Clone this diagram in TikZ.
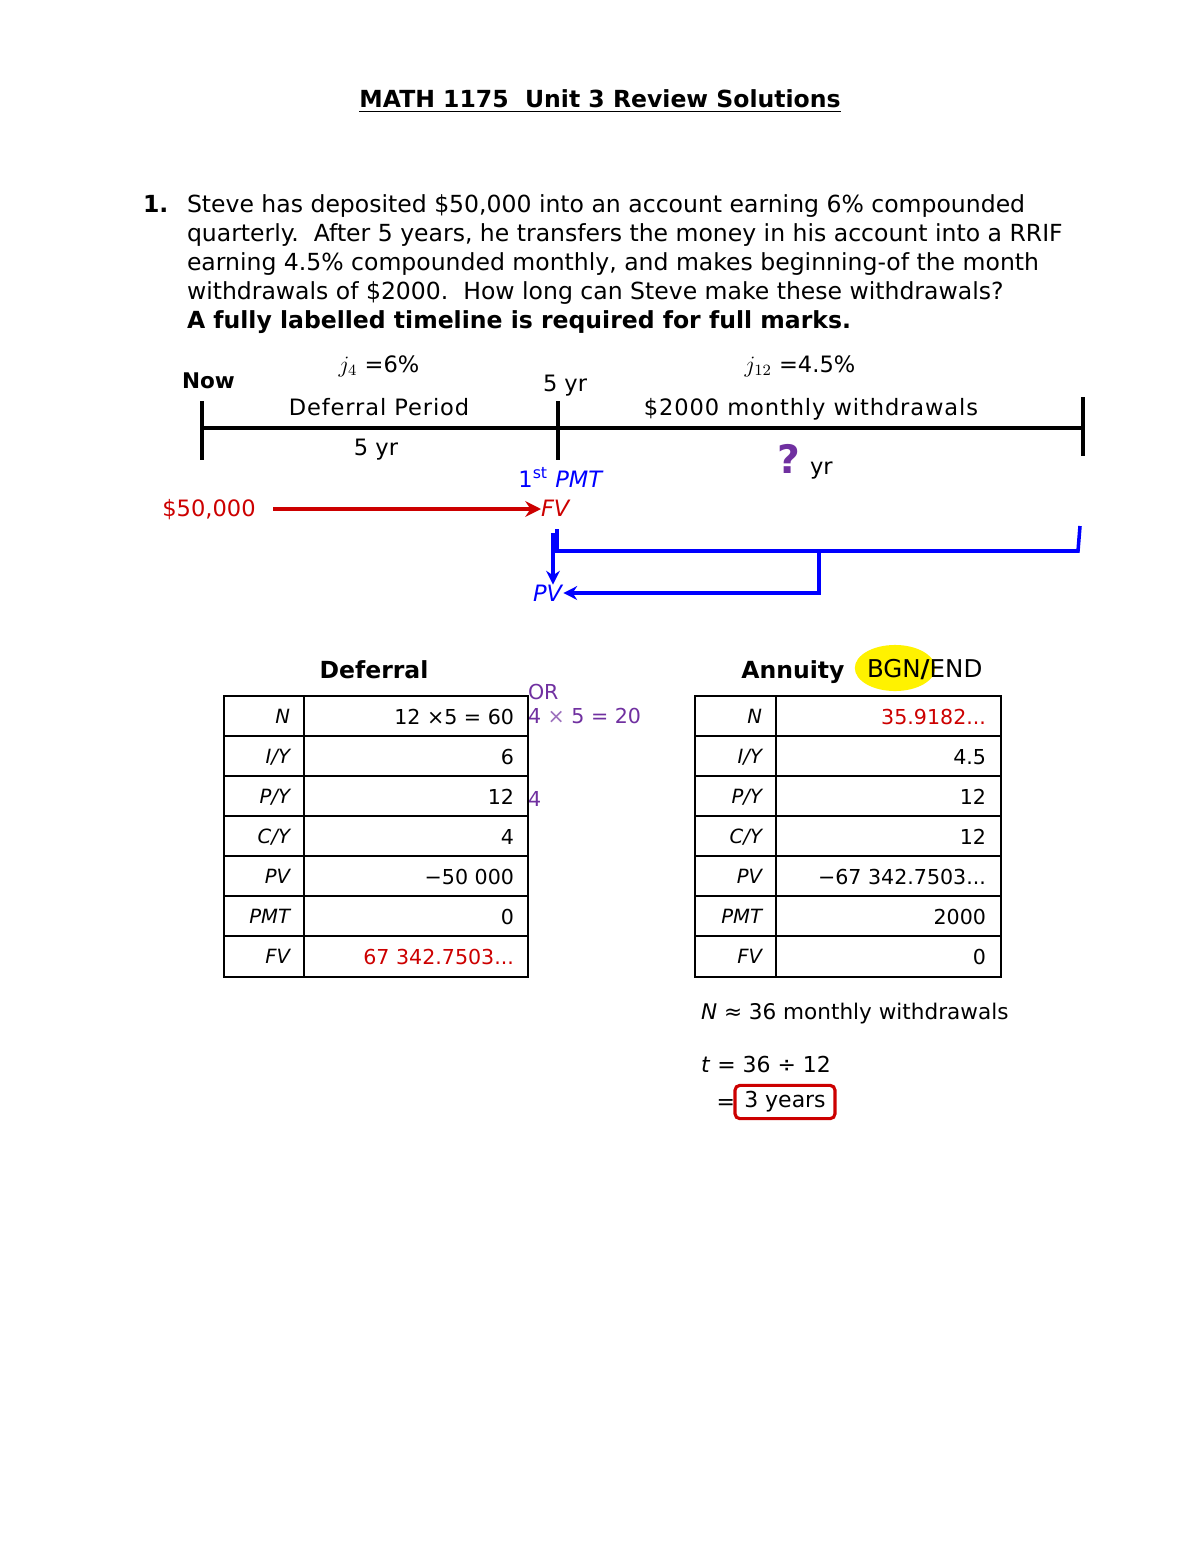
\documentclass[tikz,border=0pt]{standalone}
\usepackage{fontspec}
\setmainfont{DejaVu Sans}
\usetikzlibrary{arrows.meta,shapes.geometric}
\definecolor{myred}{RGB}{204,0,0}
\definecolor{myblue}{RGB}{0,0,255}
\definecolor{mypurple}{RGB}{112,48,160}
\begin{document}
\begin{tikzpicture}[x=0.51pt,y=-0.51pt,
  every node/.style={inner sep=0pt,outer sep=0pt},
  ptxt/.style={font=\fontsize{12}{14}\selectfont},
  tltxt/.style={font=\fontsize{11.5}{14}\selectfont},
  sptxt/.style={font=\fontsize{11.5}{14}\selectfont\addfontfeature{LetterSpace=4}},
  tabv/.style={font=\fontsize{10.5}{12}\selectfont,anchor=base east},
  tabl/.style={font=\fontsize{10}{12}\itshape,anchor=base east},
  thin/.style={line width=0.7pt},
  thick/.style={line width=1.5pt},
  tlline/.style={line width=2.2pt},
  bline/.style={draw=myblue,line width=1.8pt},
  barrow/.style={bline,-{Stealth[length=7pt,width=7pt]}},
]
\useasboundingbox (0,0) rectangle (1200,1553);

% title
\node[ptxt,anchor=base,font=\fontsize{12}{14}\bfseries] (title) at (600,108) {\underline{MATH 1175\ \ Unit 3 Review Solutions}};

% question
\node[ptxt,anchor=base west,font=\fontsize{12}{14}\bfseries] (num) at (143,213) {1.};
\node[ptxt,anchor=base west] (q1) at (187,213) {Steve has deposited \$50,000 into an account earning 6\% compounded};
\node[ptxt,anchor=base west] (q2) at (187,242) {quarterly.\ \ After 5 years, he transfers the money in his account into a\ RRIF};
\node[ptxt,anchor=base west] (q3) at (187,270) {earning 4.5\% compounded monthly, and makes beginning-of the month};
\node[ptxt,anchor=base west] (q4) at (187,299) {withdrawals of \$2000.\ \ How long can Steve make these withdrawals?};
\node[ptxt,anchor=base west,font=\fontsize{12}{14}\bfseries] (q5) at (187,328) {A fully labelled timeline is required for full marks.};

% timeline
\coordinate (t0) at (202,428);
\coordinate (t1) at (558,428);
\coordinate (t2) at (1083,428);
\draw[tlline] (t0) -- (t2);
\draw[tlline] (202,401) -- (202,460);
\draw[tlline] (558,401) -- (558,460);
\draw[tlline] (1083,397) -- (1083,456);

\node[tltxt,anchor=base west,font=\fontsize{11}{14}\bfseries] (now) at (182,388) {Now};
\node[tltxt,anchor=base] (j4) at (379,372) {$j_4$ =6\%};
\node[sptxt,anchor=base] (defp) at (379,415) {Deferral Period};
\node[tltxt,anchor=base] (fy1) at (376,455) {5 yr};
\node[tltxt,anchor=base west] (fy2) at (543,391) {5 yr};
\node[tltxt,anchor=base] (j12) at (800,372) {$j_{12}$ =4.5\%};
\node[sptxt,anchor=base] (wd) at (811,415) {\$2000 monthly withdrawals};
\node[anchor=base,text=mypurple,font=\fontsize{20}{22}\bfseries] (q) at (789,473) {?};
\node[tltxt,anchor=base west] (qyr) at (810,474) {yr};

\node[tltxt,anchor=base,text=myblue] (pmt) at (561,487) {1\textsuperscript{st} \textit{PMT}};
\node[tltxt,anchor=base,text=myred] (fifty) at (209,516) {\$50,000};
\node[tltxt,anchor=base west,text=myred] (fv) at (541,516) {\textit{FV}};
\node[tltxt,anchor=base west,text=myblue] (pv) at (533,601) {\textit{PV}};

\draw[draw=myred,line width=2.2pt,-{Stealth[length=8pt,width=8pt]}] (273,509) -- (fv.west |- 0,509);

\coordinate (bl) at (557,529);
\coordinate (br) at (1080,526);
\coordinate (bm) at (819,551);
\draw[bline] (bl) -- (557,551) -- (1078,551) -- (br);
\draw[bline] (bm) -- (819,593) -- (574,593);
\draw[barrow] (819,593) -- (pv.east |- 0,593);
\draw[barrow] (553,533) -- (pv.north -| 553,0);

% Deferral table
\node[font=\fontsize{12}{14}\bfseries,anchor=base] (deft) at (374,678) {Deferral};
\foreach \yy in {736,776,856,896,936} \draw[thin] (224,\yy) -- (528,\yy);
\draw[thick] (224,816) -- (528,816);
\draw[thick] (304,696) -- (304,977);
\draw[thick] (224,696) rectangle (528,977);
\node[tabl] (dl1) at (290,723) {N};
\node[tabl] (dl2) at (290,763) {I/Y};
\node[tabl] (dl3) at (290,803) {P/Y};
\node[tabl] (dl4) at (290,843) {C/Y};
\node[tabl] (dl5) at (290,883) {PV};
\node[tabl] (dl6) at (290,923) {PMT};
\node[tabl] (dl7) at (290,963) {FV};
\node[tabv] (dv1) at (514,724) {12 ×5 = 60};
\node[tabv] (dv2) at (514,764) {6};
\node[tabv] (dv3) at (514,804) {12};
\node[tabv] (dv4) at (514,844) {4};
\node[tabv] (dv5) at (514,884) {−50 000};
\node[tabv] (dv6) at (514,924) {0};
\node[tabv,text=myred] (dv7) at (514,964) {67 342.7503...};
\node[tabv,anchor=base west,text=mypurple] (or) at (528,699) {OR};
\node[tabv,anchor=base west,text=mypurple] (alt1) at (528,723) {4 \textcolor{mypurple!70}{×} 5 = 20};
\node[tabv,anchor=base west,text=mypurple] (alt2) at (528,806) {4};

% Annuity table
\node[font=\fontsize{12}{14}\bfseries,anchor=base] (annt) at (793,678) {Annuity};
\node[ellipse,fill=yellow,minimum width=41pt,minimum height=23.5pt] (hl) at (895,668) {};
\node[font=\fontsize{12.5}{14}\selectfont,anchor=base west] (bgn) at (867,677) {BGN\textbf{/}END};
\foreach \yy in {736,776,856,896,936} \draw[thin] (695,\yy) -- (1001,\yy);
\draw[thick] (695,816) -- (1001,816);
\draw[thick] (776,696) -- (776,977);
\draw[thick] (695,696) rectangle (1001,977);
\node[tabl] (al1) at (762,723) {N};
\node[tabl] (al2) at (762,763) {I/Y};
\node[tabl] (al3) at (762,803) {P/Y};
\node[tabl] (al4) at (762,843) {C/Y};
\node[tabl] (al5) at (762,883) {PV};
\node[tabl] (al6) at (762,923) {PMT};
\node[tabl] (al7) at (762,963) {FV};
\node[tabv,text=myred] (av1) at (986,724) {35.9182...};
\node[tabv] (av2) at (986,764) {4.5};
\node[tabv] (av3) at (986,804) {12};
\node[tabv] (av4) at (986,844) {12};
\node[tabv] (av5) at (986,884) {−67 342.7503...};
\node[tabv] (av6) at (986,924) {2000};
\node[tabv] (av7) at (986,964) {0};

% conclusion
\node[font=\fontsize{11}{14}\selectfont,anchor=base west] (napprox) at (701,1019) {\textit{N} ≈ 36 monthly withdrawals};
\node[font=\fontsize{11.2}{14}\selectfont,anchor=base west] (teq) at (701,1072) {\textit{t} = 36 ÷ 12};
\node[font=\fontsize{11.2}{14}\selectfont,anchor=base east] (eq) at (735,1109) {=};
\node[font=\fontsize{11.2}{14}\selectfont,draw=myred,line width=1.6pt,rounded corners=2.5pt,minimum width=51pt,minimum height=17pt,anchor=west] (ans) at (735,1102) {3 years};
\end{tikzpicture}
\end{document}
